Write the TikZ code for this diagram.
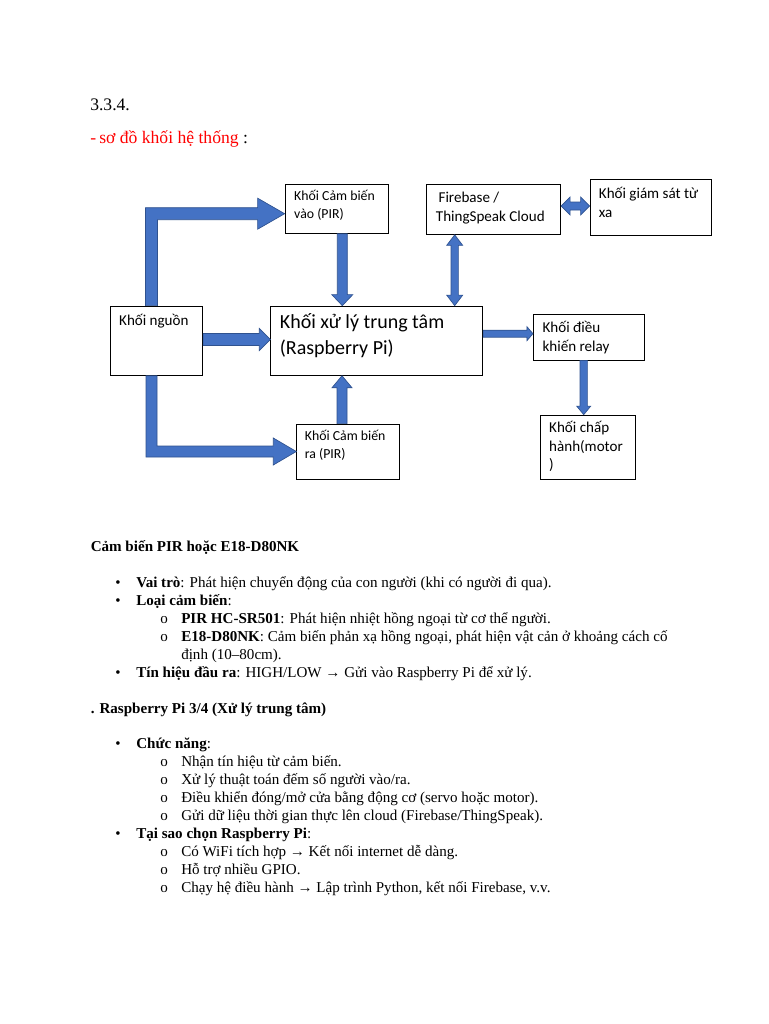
\documentclass[tikz,border=0pt]{standalone}
\usepackage{fontspec}
\setmainfont{Liberation Serif}
\newfontfamily\calfont{Carlito}
\usetikzlibrary{calc}
\definecolor{arrfill}{HTML}{4472C4}
\definecolor{arrline}{HTML}{2F528F}
\definecolor{headred}{HTML}{FF0000}
\newcommand\bodyfont{\fontsize{11.3}{13.1}\selectfont}
\newcommand\headfont{\fontsize{13.2}{15}\selectfont}
\newcommand\boxfont{\calfont\fontsize{10.35}{13.9}\selectfont}
\newcommand\boxfontL{\calfont\fontsize{11.3}{13.8}\selectfont}
\newcommand\bigboxfont{\calfont\fontsize{15}{19.3}\selectfont}
% fat arrows: #1 start, #2 tip, #3 half shaft, #4 half head, #5 head length
\newcommand\arrR[5]{\filldraw[fatarrow] ($(#1)+(0,-#3)$) -- ($(#2)+(-#5,-#3)$) -- ($(#2)+(-#5,-#4)$) -- (#2) -- ($(#2)+(-#5,#4)$) -- ($(#2)+(-#5,#3)$) -- ($(#1)+(0,#3)$) -- cycle;}
\newcommand\arrD[5]{\filldraw[fatarrow] ($(#1)+(-#3,0)$) -- ($(#2)+(-#3,-#5)$) -- ($(#2)+(-#4,-#5)$) -- (#2) -- ($(#2)+(#4,-#5)$) -- ($(#2)+(#3,-#5)$) -- ($(#1)+(#3,0)$) -- cycle;}
\newcommand\arrU[5]{\filldraw[fatarrow] ($(#1)+(-#3,0)$) -- ($(#2)+(-#3,#5)$) -- ($(#2)+(-#4,#5)$) -- (#2) -- ($(#2)+(#4,#5)$) -- ($(#2)+(#3,#5)$) -- ($(#1)+(#3,0)$) -- cycle;}
\newcommand\arrUD[5]{\filldraw[fatarrow] (#1) -- ($(#1)+(#4,#5)$) -- ($(#1)+(#3,#5)$) -- ($(#2)+(#3,-#5)$) -- ($(#2)+(#4,-#5)$) -- (#2) -- ($(#2)+(-#4,-#5)$) -- ($(#2)+(-#3,-#5)$) -- ($(#1)+(-#3,#5)$) -- ($(#1)+(-#4,#5)$) -- cycle;}
\newcommand\arrLR[5]{\filldraw[fatarrow] (#1) -- ($(#1)+(#5,-#4)$) -- ($(#1)+(#5,-#3)$) -- ($(#2)+(-#5,-#3)$) -- ($(#2)+(-#5,-#4)$) -- (#2) -- ($(#2)+(-#5,#4)$) -- ($(#2)+(-#5,#3)$) -- ($(#1)+(#5,#3)$) -- ($(#1)+(#5,#4)$) -- cycle;}
\begin{document}
\begin{tikzpicture}[x=0.75pt,y=-0.75pt,
  blk/.style 2 args={draw=black, fill=white, line width=0.6pt, inner sep=0pt, minimum width=#1*0.75pt, minimum height=#2*0.75pt},
  blbl/.style={anchor=base west, inner sep=0pt, font=\boxfont},
  blblL/.style={anchor=base west, inner sep=0pt, font=\boxfontL},
  txt/.style={anchor=base west, inner sep=0pt, font=\bodyfont},
  fatarrow/.style={fill=arrfill, draw=arrline, line width=0.5pt, line join=miter}]
\useasboundingbox[fill=white] (0,0) rectangle (768,1024);

% headings
\node[anchor=base west, inner sep=0pt, font=\headfont] (h1) at (90,110) {3.3.4.};
\node[anchor=base west, inner sep=0pt, font=\headfont] (h2) at (90,143) {\textcolor{headred}{-\hspace{0.18em}sơ đồ khối hệ thống} :};

% boxes
\node[blk={103.3}{49.3}] (vao) at (336.7,208.7) {};
\node[blk={134.7}{50.5}] (fire) at (493.4,209.2) {};
\node[blk={121.7}{56.4}] (gs) at (650.9,207.5) {};
\node[blk={92}{69.3}] (nguon) at (156.7,340.7) {};
\node[blk={212}{69.3}] (xuly) at (376.7,340.7) {};
\node[blk={110.7}{45.7}] (relay) at (588.7,337.2) {};
\node[blk={102.6}{55}] (ra) at (348,451.5) {};
\node[blk={94.3}{64.3}] (chap) at (587.9,447.2) {};

% box texts
\node[blbl] (vaoL) at ($(vao.north west)+(9.3,16.7)$) {\parbox[t]{80pt}{\raggedright Khối Cảm biến\\vào (PIR)}};
\node[blblL] (fireL) at ($(fire.north west)+(10,19.3)$) {\parbox[t]{100pt}{\raggedright\hspace*{2pt}Firebase /\\ThingSpeak Cloud}};
\node[blblL] (gsL) at ($(gs.north west)+(9,20)$) {\parbox[t]{90pt}{\raggedright Khối giám sát từ\\xa}};
\node[blblL] (nguonL) at ($(nguon.north west)+(8.6,20)$) {Khối nguồn};
\node[blbl, font=\bigboxfont] (xulyL) at ($(xuly.north west)+(9.3,23.3)$) {\parbox[t]{150pt}{\raggedright Khối xử lý trung tâm\\(Raspberry Pi)}};
\node[blblL] (relayL) at ($(relay.north west)+(9.4,19)$) {\parbox[t]{80pt}{\raggedright Khối điều\\khiến relay}};
\node[blbl] (raL) at ($(ra.north west)+(8.3,16.7)$) {\parbox[t]{80pt}{\raggedright Khối Cảm biến\\ra (PIR)}};
\node[blblL] (chapL) at ($(chap.north west)+(8.6,18.3)$) {\parbox[t]{80pt}{\raggedright Khối chấp\\hành(motor\\)}};

% arrows
% nguon -> vao (elbow)
\coordinate (a1s) at ($(nguon.north)+(-5.2,0)$);
\coordinate (a1t) at ($(vao.west)+(0,5)$);
\filldraw[fatarrow] ($(a1s)+(-6,0)$) |- ($(a1t)+(-27,-6)$) -- ($(a1t)+(-27,-15.5)$) -- (a1t) -- ($(a1t)+(-27,15.5)$) -- ($(a1t)+(-27,6)$) -| ($(a1s)+(6,0)$) -- cycle;
% nguon -> ra (elbow)
\coordinate (a3s) at ($(nguon.south)+(-5.2,0)$);
\coordinate (a3t) at (ra.west);
\filldraw[fatarrow] ($(a3s)+(-5.5,0)$) |- ($(a3t)+(-23,5.5)$) -- ($(a3t)+(-23,13.5)$) -- (a3t) -- ($(a3t)+(-23,-13.5)$) -- ($(a3t)+(-23,-5.5)$) -| ($(a3s)+(5.5,0)$) -- cycle;
% nguon -> xuly
\coordinate (a2t) at ($(xuly.west)+(0,-1.2)$);
\coordinate (a2s) at (nguon.east |- a2t);
\arrR{a2s}{a2t}{6}{11}{11}
% vao -> xuly
\coordinate (a4s) at ($(vao.south)+(5.6,0)$);
\coordinate (a4t) at (a4s |- xuly.north);
\arrD{a4s}{a4t}{5}{10.5}{11}
% ra -> xuly
\coordinate (a5s) at ($(ra.north)+(-6,0)$);
\coordinate (a5t) at (a5s |- xuly.south);
\arrU{a5s}{a5t}{5}{10}{12}
% fire <-> xuly
\coordinate (a6a) at ($(fire.south)+(-38.7,0)$);
\coordinate (a6b) at (a6a |- xuly.north);
\arrUD{a6a}{a6b}{3.7}{8}{10.5}
% fire <-> gs
\coordinate (a7a) at ($(fire.east)+(0,-3.2)$);
\coordinate (a7b) at (gs.west |- a7a);
\arrLR{a7a}{a7b}{4}{9}{9}
% xuly -> relay
\coordinate (a8t) at ($(relay.west)+(0,-3.5)$);
\coordinate (a8s) at (xuly.east |- a8t);
\arrR{a8s}{a8t}{3.5}{7}{6}
% relay -> chap
\coordinate (a9s) at ($(relay.south)+(-5,0)$);
\coordinate (a9t) at (a9s |- chap.north);
\arrD{a9s}{a9t}{3.7}{7}{8.5}

% body text
\node[txt] (s1) at (90.5,551) {\bfseries Cảm biến PIR hoặc E18-D80NK};
\node[txt] (b1) at (115,587.5) {•};
\node[txt] (l1) at (136,587.5) {\textbf{Vai trò}: Phát hiện chuyển động của con người (khi có người đi qua).};
\node[txt] (b2) at (115,605.5) {•};
\node[txt] (l2) at (136,605.5) {\textbf{Loại cảm biến}:};
\node[txt] (o1) at (160,623.5) {o};
\node[txt] (l3) at (181,623.5) {\textbf{PIR HC-SR501}: Phát hiện nhiệt hồng ngoại từ cơ thể người.};
\node[txt] (o2) at (160,641.5) {o};
\node[txt] (l4) at (181,641.5) {\textbf{E18-D80NK}: Cảm biến phản xạ hồng ngoại, phát hiện vật cản ở khoảng cách cố};
\node[txt] (l5) at (181,659.5) {định (10–80cm).};
\node[txt] (b3) at (115,677.5) {•};
\node[txt] (l6) at (136,677.5) {\textbf{Tín hiệu đầu ra}: HIGH/LOW → Gửi vào Raspberry Pi để xử lý.};

\node[txt] (s2) at (90.5,713.5) {\bfseries . Raspberry Pi 3/4 (Xử lý trung tâm)};
\node[txt] (b4) at (115,748.5) {•};
\node[txt] (m1) at (136,748.5) {\textbf{Chức năng}:};
\node[txt] (o3) at (160,766.5) {o};
\node[txt] (m2) at (181,766.5) {Nhận tín hiệu từ cảm biến.};
\node[txt] (o4) at (160,784.5) {o};
\node[txt] (m3) at (181,784.5) {Xử lý thuật toán đếm số người vào/ra.};
\node[txt] (o5) at (160,802.5) {o};
\node[txt] (m4) at (181,802.5) {Điều khiển đóng/mở cửa bằng động cơ (servo hoặc motor).};
\node[txt] (o6) at (160,820.5) {o};
\node[txt] (m5) at (181,820.5) {Gửi dữ liệu thời gian thực lên cloud (Firebase/ThingSpeak).};
\node[txt] (b5) at (115,838.5) {•};
\node[txt] (m6) at (136,838.5) {\textbf{Tại sao chọn Raspberry Pi}:};
\node[txt] (o7) at (160,856.5) {o};
\node[txt] (m7) at (181,856.5) {Có WiFi tích hợp → Kết nối internet dễ dàng.};
\node[txt] (o8) at (160,874.5) {o};
\node[txt] (m8) at (181,874.5) {Hỗ trợ nhiều GPIO.};
\node[txt] (o9) at (160,892.5) {o};
\node[txt] (m9) at (181,892.5) {Chạy hệ điều hành → Lập trình Python, kết nối Firebase, v.v.};
\end{tikzpicture}
\end{document}
